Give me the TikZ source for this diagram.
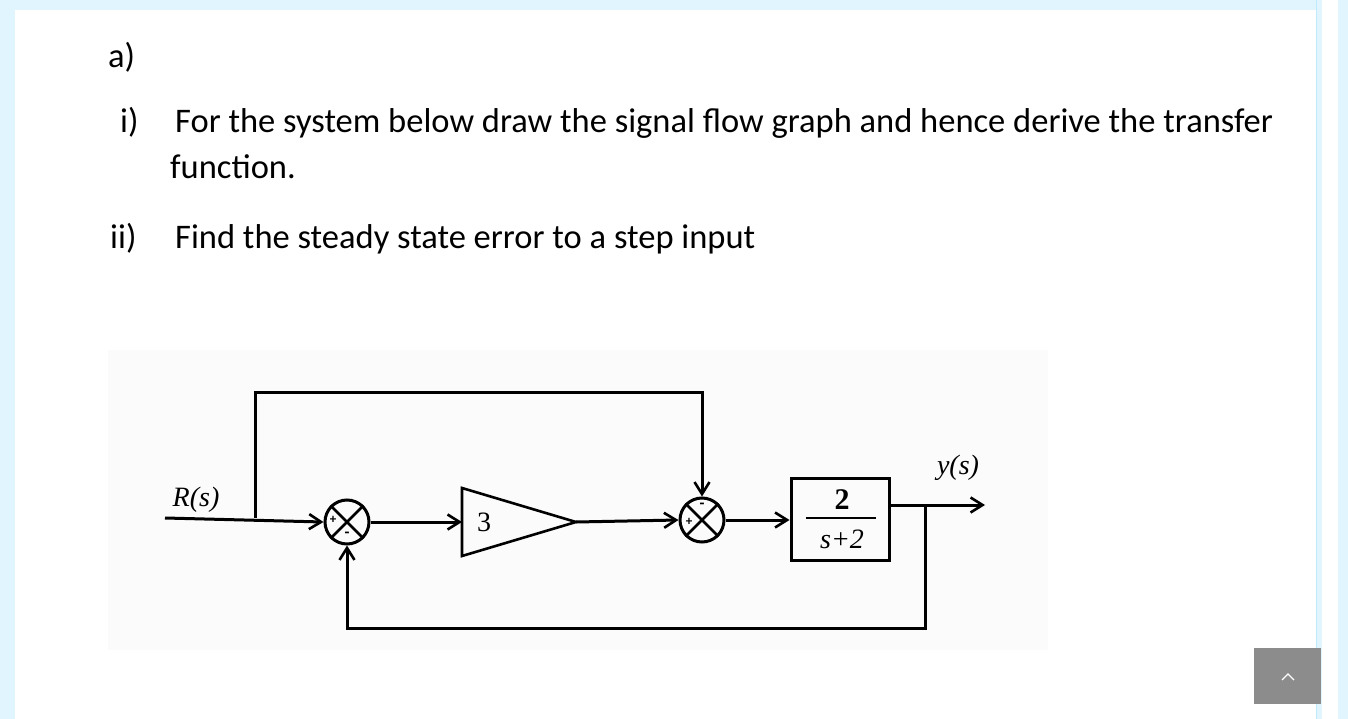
\documentclass[tikz,border=0pt]{standalone}
\usepackage{fontspec}
\setmainfont{Carlito}
\newfontfamily\dfont{Liberation Serif}
\usetikzlibrary{arrows.meta}
\begin{document}
\begin{tikzpicture}[x=1pt,y=-1pt,
  txt/.style={anchor=base west,inner sep=0pt,font=\fontsize{34.5}{40}\selectfont},
  sumj/.style={circle,draw,line width=3pt,minimum size=44pt,inner sep=0pt},
  wire/.style={line width=3pt},
  arr/.style={wire,-{Straight Barb[length=12pt,width=15pt,line width=2.6pt]}},
  dl/.style={font=\dfont\itshape\fontsize{28}{30}\selectfont,inner sep=0pt}]
\useasboundingbox (0,0) rectangle (1348,719);
\fill[cyan!12!white] (0,0) rectangle (1348,719);
\fill[white] (15,10) rectangle (1316,719);
\fill[white] (1322,0) rectangle (1338,719);
\draw[cyan!25!white,line width=1pt] (1316,0) -- (1316,719);
\fill[black!1.5] (108,350) rectangle (1048,650);
% texts
\node[txt] (ta) at (108,68) {a)};
\node[txt] (ti) at (120,133) {i)};
\node[txt] (t1) at (175,133) {For the system below draw the signal flow graph and hence derive the transfer};
\node[txt] (t2) at (170,179) {function.};
\node[txt] (tii) at (110,249) {ii)};
\node[txt] (t3) at (175,249) {Find the steady state error to a step input};
% diagram
\node[sumj] (s1) at (347,522) {};
\draw[line width=2.6pt] (s1.north west) -- (s1.south east) (s1.north east) -- (s1.south west);
\node[font=\bfseries\fontsize{13}{13}\selectfont] at (333,520) {+};
\node[font=\bfseries\fontsize{16}{16}\selectfont] at (347,535) {-};
\node[sumj] (s2) at (702,520) {};
\draw[line width=2.6pt] (s2.north west) -- (s2.south east) (s2.north east) -- (s2.south west);
\node[font=\bfseries\fontsize{13}{13}\selectfont] at (689,522) {+};
\node[font=\bfseries\fontsize{16}{16}\selectfont] at (702,506) {-};
\draw[line width=2.6pt] (462,488) coordinate (g1) -- (576,522) coordinate (gt) -- (462,556) -- cycle;
\node[dl,font=\dfont\fontsize{28}{30}\selectfont] (g) at (484,522) {3};
\node[draw,line width=3pt,minimum width=98pt,minimum height=82pt] (b) at (840,519) {};
\node[dl,font=\dfont\bfseries\fontsize{30}{32}\selectfont] (bn) at (842,500) {2};
\draw[line width=2.6pt] (806,518) -- (876,518);
\node[dl] (bd) at (842,539) {s+2};
\node[dl] (R) at (196,500) {R(s)};
\node[dl] (Y) at (958,468) {y(s)};
\coordinate (r0) at (165,518);
\coordinate (rb) at (255,518);
\coordinate (rt) at (255,392);
\coordinate (rt2) at (702,392);
\coordinate (yb) at (925,505);
\coordinate (ye) at (985,505);
\coordinate (fb) at (925,628);
\coordinate (fb2) at (347,628);
\draw[arr] (r0) -- (s1.west);
\draw[arr] (rb) -- (rt) -- (rt2) -- (s2.north);
\draw[arr] (s1.east) -- (g1 |- s1.east);
\draw[arr] (gt) -- (s2.west);
\draw[arr] (s2.east) -- (b.west |- s2.east);
\draw[arr] (b.east |- yb) -- (ye);
\draw[arr] (yb) -- (fb) -- (fb2) -- (s1.south);
% scroll button
\fill[black!45] (1254,648) rectangle (1321,704);
\draw[white,line width=1.2pt] (1282,680) -- (1288,674) -- (1294,680);
\end{tikzpicture}
\end{document}
